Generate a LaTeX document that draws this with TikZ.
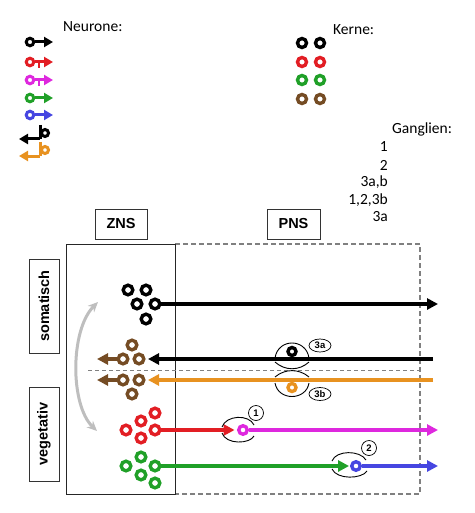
\documentclass[tikz,border=0pt]{standalone}
\usepackage{fontspec}
\setmainfont{Carlito}
\newfontfamily\lsans{Liberation Sans}
\usetikzlibrary{arrows.meta,shapes.geometric}
\definecolor{cred}{RGB}{226,30,36}
\definecolor{cmag}{RGB}{222,40,222}
\definecolor{cgreen}{RGB}{32,160,40}
\definecolor{cblue}{RGB}{70,70,225}
\definecolor{cbrown}{RGB}{117,76,36}
\definecolor{corange}{RGB}{232,146,32}
\definecolor{cgray}{RGB}{190,190,190}
\definecolor{cdash}{RGB}{128,128,128}
\begin{document}
\begin{tikzpicture}[x=1pt,y=-1pt,
  nuc/.style={circle,draw,line width=3.4pt,minimum size=9.6pt,inner sep=0pt,fill=white},
  lnuc/.style={circle,draw,line width=3pt,minimum size=7.5pt,inner sep=0pt,fill=white},
  axon/.style={line width=3.2pt,-{Triangle[length=11pt,width=11pt]}},
  laxon/.style={line width=3pt,-{Triangle[length=9pt,width=10pt]}},
  gang/.style={line width=0.9pt},
  lbl/.style={draw=black!80,line width=0.8pt,font=\lsans\bfseries\fontsize{14.5}{16}\selectfont,inner sep=0pt},
  tag/.style={ellipse,draw,line width=0.7pt,font=\lsans\bfseries\fontsize{9.5}{10}\selectfont,inner sep=0pt,minimum width=22pt,minimum height=13pt,fill=white},
  ctag/.style={circle,draw,line width=0.7pt,font=\lsans\bfseries\fontsize{9.5}{10}\selectfont,inner sep=0pt,minimum size=15pt,fill=white},
  legtxt/.style={font=\fontsize{15.5}{17}\selectfont,inner sep=0pt},
  pdash/.style={cdash,line width=1.3pt,dash pattern=on 5pt off 3pt}
]
\useasboundingbox (0,0) rectangle (474,513);

% ---------- legend: Neurone ----------
\node[legtxt,anchor=west] (tneur) at (63,27) {Neurone:};
\node[lnuc,draw=black] (n1) at (30,42) {};
\coordinate (n1e) at (53,42);
\draw[laxon,black] (n1) -- (n1e);
\node[lnuc,draw=cred] (n2) at (30,62) {};
\coordinate (n2e) at (53,62);
\draw[laxon,cred] (n2) -- (n2e);
\draw[line width=2.4pt,cred] (39,62) -- (39,68);
\node[lnuc,draw=cmag] (n3) at (30,80) {};
\coordinate (n3e) at (53,80);
\draw[laxon,cmag] (n3) -- (n3e);
\draw[line width=2.4pt,cmag] (39,80) -- (39,86);
\node[lnuc,draw=cgreen] (n4) at (30,98) {};
\coordinate (n4e) at (53,98);
\draw[laxon,cgreen] (n4) -- (n4e);
\node[lnuc,draw=cblue] (n5) at (30,115) {};
\coordinate (n5e) at (53,115);
\draw[laxon,cblue] (n5) -- (n5e);
% pseudo-unipolar legend
\coordinate (s6t) at (40,125);
\coordinate (s6b) at (40,139);
\coordinate (n6e) at (19,139);
\draw[line width=3pt,black] (s6t) -- (s6b);
\draw[laxon,black] (s6b) -- (n6e);
\node[lnuc,draw=black,minimum size=7pt] (n6) at (45,133) {};
\coordinate (s7t) at (40,142);
\coordinate (s7b) at (40,156);
\coordinate (n7e) at (19,156);
\draw[line width=3pt,corange] (s7t) -- (s7b);
\draw[laxon,corange] (s7b) -- (n7e);
\node[lnuc,draw=corange,minimum size=7pt] (n7) at (45,150) {};

% ---------- legend: Kerne ----------
\node[legtxt,anchor=west] (tkern) at (333,30) {Kerne:};
\node[nuc,draw=black,minimum size=9pt] (k1a) at (302,43) {};
\node[nuc,draw=black,minimum size=9pt] (k1b) at (320,43) {};
\node[nuc,draw=cred,minimum size=9pt] (k2a) at (302,62) {};
\node[nuc,draw=cred,minimum size=9pt] (k2b) at (320,62) {};
\node[nuc,draw=cgreen,minimum size=9pt] (k3a) at (302,80) {};
\node[nuc,draw=cgreen,minimum size=9pt] (k3b) at (320,80) {};
\node[nuc,draw=cbrown,minimum size=9pt] (k4a) at (302,99) {};
\node[nuc,draw=cbrown,minimum size=9pt] (k4b) at (320,99) {};

% ---------- legend: Ganglien ----------
\node[legtxt,anchor=west] (tgang) at (392,129) {Ganglien:};
\node[legtxt,anchor=east] (g1) at (388,147) {1};
\node[legtxt,anchor=east] (g2) at (388,165) {2};
\node[legtxt,anchor=east] (g3) at (388,182) {3a,b};
\node[legtxt,anchor=east] (g4) at (388,200) {1,2,3b};
\node[legtxt,anchor=east] (g5) at (388,217) {3a};

% ---------- labels ----------
\node[lbl,minimum width=52pt,minimum height=30pt] (zns) at (121,224) {ZNS};
\node[lbl,minimum width=53pt,minimum height=30pt] (pns) at (293.5,224) {PNS};
\node[lbl,minimum width=94pt,minimum height=30pt,rotate=90] (som) at (44,306) {somatisch};
\node[lbl,minimum width=94pt,minimum height=30pt,rotate=90] (veg) at (44,434) {vegetativ};

% ---------- frames ----------
\draw[pdash] (175,244) -- (420,244) -- (420,494) -- (175,494);
\draw[black!85,line width=1pt] (66,244) rectangle (175,494);
\draw[cdash,line width=1pt,dash pattern=on 4pt off 3pt] (88,370) -- (420,370);

% gray double arrow
\coordinate (ga1) at (98,302);
\coordinate (ga2) at (97,431);
\draw[cgray,line width=3pt,{Stealth[length=10pt,width=9pt]}-{Stealth[length=10pt,width=9pt]}]
  (ga1) .. controls (70,330) and (70,405) .. (ga2);

% ---------- somatic motor (black) ----------
\coordinate (bend) at (438,304);
\draw[axon,black] (155,304) -- (bend);
\node[nuc,draw=black] (b1) at (128,290) {};
\node[nuc,draw=black] (b2) at (146,290) {};
\node[nuc,draw=black] (b3) at (137,304) {};
\node[nuc,draw=black] (b4) at (155,304) {};
\node[nuc,draw=black] (b5) at (146,319) {};

% ---------- afferents (brown) ----------
\coordinate (inblk) at (433,359);
\coordinate (inorg) at (433,380);
\coordinate (br1e) at (97,359);
\coordinate (br2e) at (97,380);
\node[nuc,draw=cbrown] (c1) at (132,345) {};
\node[nuc,draw=cbrown] (c2) at (123,359) {};
\node[nuc,draw=cbrown] (c3) at (139,359) {};
\node[nuc,draw=cbrown] (c4) at (123,380) {};
\node[nuc,draw=cbrown] (c5) at (139,380) {};
\node[nuc,draw=cbrown] (c6) at (132,394) {};
\draw[axon,cbrown] (c2) -- (br1e);
\draw[axon,cbrown] (c4) -- (br2e);
\draw[axon,black,shorten >=2.5pt] (inblk) -- (c3);
\draw[axon,corange,shorten >=2.5pt] (inorg) -- (c5);

% ganglion 3a / 3b
\node[nuc,draw=black,minimum size=8pt] (p3a) at (292,351.5) {};
\node[nuc,draw=corange,minimum size=8pt] (p3b) at (292,387.5) {};
\draw[gang] (275,358) .. controls (278,338) and (306,338) .. (309,358);
\draw[gang] (275,362) .. controls (285,371) and (299,371) .. (309,362);
\draw[gang] (275,377) .. controls (285,368.5) and (299,368.5) .. (309,377);
\draw[gang] (275,383) .. controls (278,401) and (306,401) .. (309,383);
\node[tag] (t3a) at (320,345.5) {3a};
\node[tag] (t3b) at (320,394) {3b};

% ---------- vegetative: red -> magenta, green -> blue ----------
\coordinate (mend) at (438,430);
\coordinate (bluend) at (438,466);
\node[nuc,draw=cmag,minimum size=8.5pt] (mg) at (243,430) {};
\node[nuc,draw=cblue,minimum size=8.5pt] (bl) at (356,466) {};
\draw[axon,cmag] (mg) -- (mend);
\draw[axon,cblue] (bl) -- (bluend);
\draw[axon,cred,shorten >=2.5pt] (155,430) -- (mg);
\draw[axon,cgreen,shorten >=1pt] (155,466) -- (bl);
\node[nuc,draw=cred] (r1) at (155,413) {};
\node[nuc,draw=cred] (r2) at (141,421) {};
\node[nuc,draw=cred] (r3) at (126,430) {};
\node[nuc,draw=cred] (r4) at (155,430) {};
\node[nuc,draw=cred] (r5) at (141,438) {};
\node[nuc,draw=cgreen] (e1) at (141,457) {};
\node[nuc,draw=cgreen] (e2) at (126,466) {};
\node[nuc,draw=cgreen] (e3) at (155,466) {};
\node[nuc,draw=cgreen] (e4) at (141,475) {};
\node[nuc,draw=cgreen] (e5) at (155,483) {};

% ganglion 1
\draw[gang] (222,427) .. controls (226,415) and (249,414) .. (254,425);
\draw[gang] (222,433) .. controls (226,445) and (250,444) .. (254,436);
\node[ctag] (t1) at (256,413) {1};
% ganglion 2
\draw[gang] (332,461) .. controls (336,450) and (360,450) .. (366,460);
\draw[gang] (332,469) .. controls (337,480) and (362,479) .. (367,471);
\node[ctag] (t2) at (369,448) {2};
\end{tikzpicture}
\end{document}
